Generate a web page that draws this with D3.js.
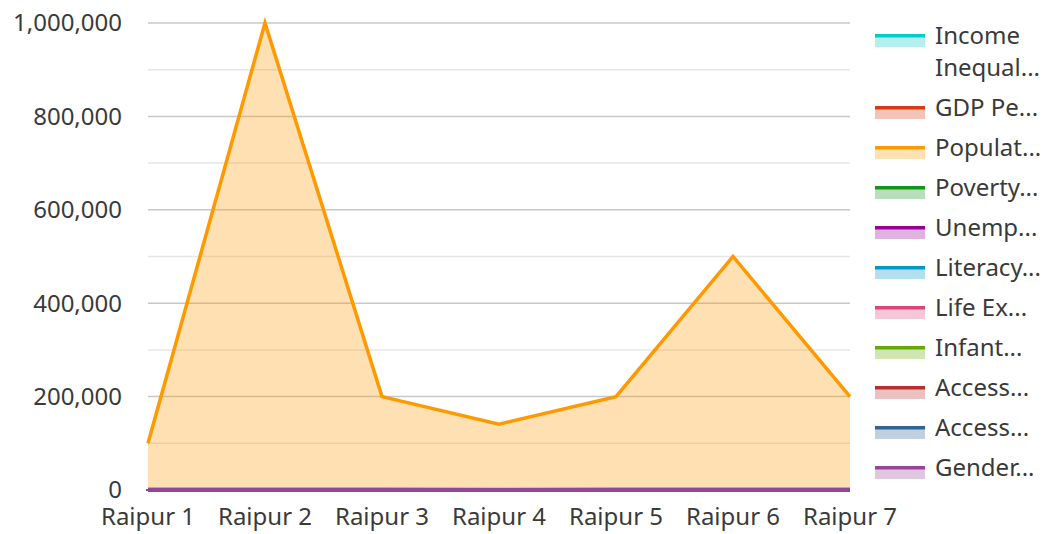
<!DOCTYPE html>
<html>
<head>
<meta charset="utf-8">
<script src="https://cdn.jsdelivr.net/npm/d3@7"></script>
<style>
  body { margin: 0; background: #fff; }
  svg text { font-family: "Noto Sans", sans-serif; fill: #3a3a3a; }
</style>
</head>
<body>
<svg id="chart" width="1045" height="534"></svg>
<script>
const categories = ["Raipur 1", "Raipur 2", "Raipur 3", "Raipur 4", "Raipur 5", "Raipur 6", "Raipur 7"];

const seriesNames = [
  ["Income", "Inequal..."], ["GDP Pe..."], ["Populat..."], ["Poverty..."], ["Unemp..."],
  ["Literacy..."], ["Life Ex..."], ["Infant..."], ["Access..."], ["Access..."], ["Gender..."]
];
const seriesColors = ["#00cccc", "#dc3912", "#ff9900", "#109618", "#990099", "#0099c6",
  "#dd4477", "#66aa00", "#b82e2e", "#316395", "#994499"];

const incomeInequality = [0.35, 0.38, 0.33, 0.36, 0.34, 0.37, 0.32];
const gdpPerCapita = [1500, 1800, 1400, 1300, 1600, 1700, 1450];
const population = [100000, 1000000, 200000, 141000, 200000, 500000, 200000];
const povertyRate = [25, 18, 30, 32, 27, 22, 28];
const unemploymentRate = [8, 6, 9, 10, 7, 6, 8];
const literacyRate = [75, 85, 70, 68, 72, 80, 71];
const lifeExpectancy = [68, 72, 66, 65, 67, 70, 66];
const infantMortality = [40, 30, 45, 48, 42, 35, 44];
const accessWater = [80, 92, 75, 70, 78, 88, 76];
const accessElectricity = [85, 95, 80, 78, 82, 90, 81];
const genderRatio = [0.95, 0.97, 0.94, 0.93, 0.96, 0.95, 0.94];

const seriesValues = [incomeInequality, gdpPerCapita, population, povertyRate, unemploymentRate,
  literacyRate, lifeExpectancy, infantMortality, accessWater, accessElectricity, genderRatio];

const yTicks = [0, 200000, 400000, 600000, 800000, 1000000];

const svg = d3.select("#chart");
const margin = { left: 148, right: 195, top: 23, bottom: 44 };
const W = 1045, H = 534;

const x = d3.scalePoint().domain(categories).range([margin.left, W - margin.right]);
const y = d3.scaleLinear().domain([0, 1000000]).range([H - margin.bottom, margin.top]);

// minor grid
svg.append("g")
  .selectAll("line")
  .data(d3.range(100000, 1000000, 200000))
  .join("line")
  .attr("x1", margin.left).attr("x2", W - margin.right)
  .attr("y1", d => y(d)).attr("y2", d => y(d))
  .attr("stroke", "#e6e6e6").attr("stroke-width", 1.5);

// major grid
svg.append("g")
  .selectAll("line")
  .data(yTicks.slice(1))
  .join("line")
  .attr("x1", margin.left).attr("x2", W - margin.right)
  .attr("y1", d => y(d)).attr("y2", d => y(d))
  .attr("stroke", "#c8c8c8").attr("stroke-width", 1.5);

// y labels
svg.append("g")
  .selectAll("text")
  .data(yTicks)
  .join("text")
  .attr("x", 122)
  .attr("y", d => y(d))
  .attr("dy", "0.35em")
  .attr("text-anchor", "end")
  .style("font-size", "24px")
  .text(d => d3.format(",")(d));

// x labels
svg.append("g")
  .selectAll("text")
  .data(categories)
  .join("text")
  .attr("x", d => x(d))
  .attr("y", 525)
  .attr("text-anchor", "middle")
  .style("font-size", "24px")
  .text(d => d);

// baseline
svg.append("line")
  .attr("x1", margin.left - 2).attr("x2", W - margin.right)
  .attr("y1", y(0)).attr("y2", y(0))
  .attr("stroke", "#333").attr("stroke-width", 1.5);

const area = d3.area()
  .x((d, i) => x(categories[i]))
  .y0(y(0))
  .y1(d => y(d));
const line = d3.line()
  .x((d, i) => x(categories[i]))
  .y(d => y(d));

const plot = svg.append("g");
seriesValues.forEach((vals, k) => {
  plot.append("path")
    .datum(vals)
    .attr("d", area)
    .attr("fill", seriesColors[k])
    .attr("fill-opacity", 0.3);
  plot.append("path")
    .datum(vals)
    .attr("d", line)
    .attr("fill", "none")
    .attr("stroke", seriesColors[k])
    .attr("stroke-width", 3.5)
    .attr("stroke-linejoin", "miter");
});

// legend
const legendRows = [35, 107, 147, 187, 227, 267, 307, 347, 387, 427, 467];
const legend = svg.append("g");
seriesNames.forEach((name, k) => {
  const ry = legendRows[k];
  const g = legend.append("g").attr("transform", `translate(875,${ry})`);
  g.append("rect").attr("x", 0).attr("y", 0).attr("width", 50).attr("height", 12)
    .attr("fill", seriesColors[k]).attr("fill-opacity", 0.3);
  g.append("rect").attr("x", 0).attr("y", -1).attr("width", 50).attr("height", 3.5)
    .attr("fill", seriesColors[k]);
  name.forEach((t, j) => {
    g.append("text")
      .attr("x", 60)
      .attr("y", 9 + j * 32)
      .style("font-size", "24px")
      .text(t);
  });
});
</script>
</body>
</html>
